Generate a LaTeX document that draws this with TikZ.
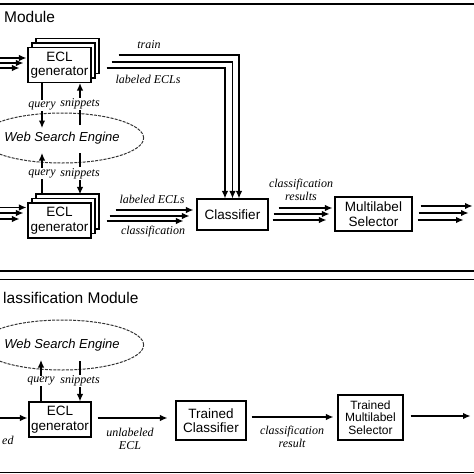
\documentclass[tikz,border=0pt]{standalone}
\usepackage{fontspec}
\setmainfont{Liberation Serif}
\setsansfont{Liberation Sans}
\usetikzlibrary{arrows.meta, positioning, calc, shapes.geometric, shadows}

\begin{document}
\begin{tikzpicture}[
        x=1pt, y=-1pt,
        caja/.style={
            rectangle,
            draw=black,
            line width=1.1pt,
            fill=white,
            align=center,
            inner sep=0pt,
            font=\sffamily\fontsize{13.5}{14.5}\selectfont
        },
        generador/.style={
            caja,
            minimum width=63pt,
            minimum height=35pt,
            double copy shadow={shadow xshift=4pt, shadow yshift=4.5pt, fill=white, draw=black}
        },
        motor/.style={
            ellipse,
            draw=black!80,
            dash pattern=on 3pt off 1.2pt,
            line width=1pt,
            minimum width=142pt,
            minimum height=50pt,
            inner sep=0pt,
            font=\sffamily\itshape\fontsize{13}{14}\selectfont
        },
        etiqueta/.style={
            font=\itshape\fontsize{12}{12.5}\selectfont,
            inner sep=1pt,
            align=center
        },
        titulo/.style={
            anchor=west,
            inner sep=0pt,
            font=\sffamily\fontsize{15.5}{16}\selectfont
        },
        marco/.style={draw=black, line width=1.8pt},
        flecha/.style={-{Latex[length=7.5pt, width=6.5pt]}, line width=1.3pt}
    ]
        \useasboundingbox (0,0) rectangle (474,474);
        \clip (0,0) rectangle (474,474);

        % marcos de los dos modulos
        \draw[marco] (-10,4) rectangle (484,271);
        \draw[marco] (-10,279.5) rectangle (484,472.5);

        \node[titulo] (modulo) at (4,17) {Module};
        \node[titulo] (modulo2) at (3,298) {lassification Module};

        % modulo de arriba
        \node[generador] (gen1) at (59.5,65) {ECL\\generator};
        \node[motor] (motor1) at (62,138) {Web Search Engine};
        \node[generador] (gen2) at (59.5,220.5) {ECL\\generator};
        \node[caja, minimum width=71pt, minimum height=31pt] (clasif) at (232.5,214.5) {Classifier};
        \node[caja, minimum width=77pt, minimum height=34pt] (selector) at (373.5,214) {Multilabel\\Selector};

        \node[etiqueta] (lbltrain) at (149,45) {train};
        \node[etiqueta] (lbllab1) at (148,79) {labeled ECLs};
        \node[etiqueta] (lbllab2) at (152,199) {labeled ECLs};
        \node[etiqueta] (lblclas) at (153,232) {classification};
        \node[etiqueta] (lblres) at (301,190) {classification\\results};

        \draw[flecha] ($(gen1.west)+(-40,-7)$) -- ($(gen1.west)+(-1,-7)$);
        \draw[flecha] ($(gen1.west)+(-40,-2)$) -- ($(gen1.west)+(-4,-2)$);
        \draw[flecha] ($(gen1.west)+(-40,3)$) -- ($(gen1.west)+(-8,3)$);

        \draw[flecha] ($(gen2.west)+(-40,-13)$) -- ($(gen2.west)+(-1,-13)$);
        \draw[flecha] ($(gen2.west)+(-40,-7.5)$) -- ($(gen2.west)+(-4,-7.5)$);
        \draw[flecha] ($(gen2.west)+(-40,-1.5)$) -- ($(gen2.west)+(-8,-1.5)$);

        \draw[flecha] ($(gen1.south)+(-17.5,0)$) -- node[etiqueta, fill=white] (q1) {query} ($(motor1.center)+(-20,-10)$);
        \draw[flecha] ($(motor1.center)+(18,-13)$) -- node[etiqueta, fill=white] (s1) {snippets} ($(gen1.south)+(20.5,0)$);
        \draw[flecha] ($(gen2.north)+(-17.5,-8.5)$) -- node[etiqueta, fill=white] (q2) {query} ($(motor1.center)+(-20,15)$);
        \draw[flecha] ($(motor1.center)+(18,15)$) -- node[etiqueta, fill=white] (s2) {snippets} ($(gen2.north)+(20.5,-8)$);

        \draw[flecha] ($(gen1.east)+(27,-10)$) -| ($(clasif.north)+(6.5,0)$);
        \draw[flecha] ($(gen1.east)+(20,-3)$) -| (clasif.north);
        \draw[flecha] ($(gen1.east)+(15,3)$) -| ($(clasif.north)+(-7.5,0)$);

        \draw[flecha] ($(gen2.east)+(24,-10.5)$) -- ($(clasif.west)+(-3,-4.5)$);
        \draw[flecha] ($(gen2.east)+(18,-4.5)$) -- ($(clasif.west)+(-7,1.5)$);
        \draw[flecha] ($(gen2.east)+(15,0.5)$) -- ($(clasif.west)+(-13,6.5)$);

        \draw[flecha] ($(clasif.east)+(10,-6.5)$) -- ($(selector.west)+(-2,-6)$);
        \draw[flecha] ($(clasif.east)+(5,-0.5)$) -- ($(selector.west)+(-5,0)$);
        \draw[flecha] ($(clasif.east)+(4,5.5)$) -- ($(selector.west)+(-8,6)$);

        \draw[flecha] ($(selector.east)+(8,-8)$) -- ($(selector.east)+(60,-8)$);
        \draw[flecha] ($(selector.east)+(6,-1)$) -- ($(selector.east)+(56,-1)$);
        \draw[flecha] ($(selector.east)+(5,6)$) -- ($(selector.east)+(51,6)$);

        % modulo de abajo
        \node[motor] (motor2) at (62,345) {Web Search Engine};
        \node[caja, minimum width=62pt, minimum height=35pt] (gen3) at (60,419.5) {ECL\\generator};
        \node[caja, minimum width=70pt, minimum height=39pt] (entrenado) at (211,420.5) {Trained\\Classifier};
        \node[caja, minimum width=65pt, minimum height=45pt, font=\sffamily\fontsize{12}{12.5}\selectfont] (selector2) at (370.5,417.5) {Trained\\Multilabel\\Selector};

        \node[etiqueta, anchor=west] (lbled) at (1,440) {ed};
        \node[etiqueta] (lblunl) at (130,439) {unlabeled\\ECL};
        \node[etiqueta] (lblres2) at (292,437) {classification\\result};

        \draw[flecha] ($(gen3.west)+(-40,-1.5)$) -- ($(gen3.west)+(-1,-1.5)$);
        \draw[flecha] ($(gen3.north)+(-19,0)$) -- node[etiqueta, fill=white] (q3) {query} ($(motor2.center)+(-21,15)$);
        \draw[flecha] ($(motor2.center)+(18,16)$) -- node[etiqueta, fill=white] (s3) {snippets} ($(gen3.north)+(20,0)$);
        \draw[flecha] ($(gen3.east)+(6,-1.5)$) -- ($(entrenado.west)+(-8,-2.5)$);
        \draw[flecha] ($(entrenado.east)+(5,-3.5)$) -- ($(selector2.west)+(-4,-0.5)$);
        \draw[flecha] ($(selector2.east)+(7,-1.5)$) -- ($(selector2.east)+(67,-1.5)$);
    \end{tikzpicture}
\end{document}
